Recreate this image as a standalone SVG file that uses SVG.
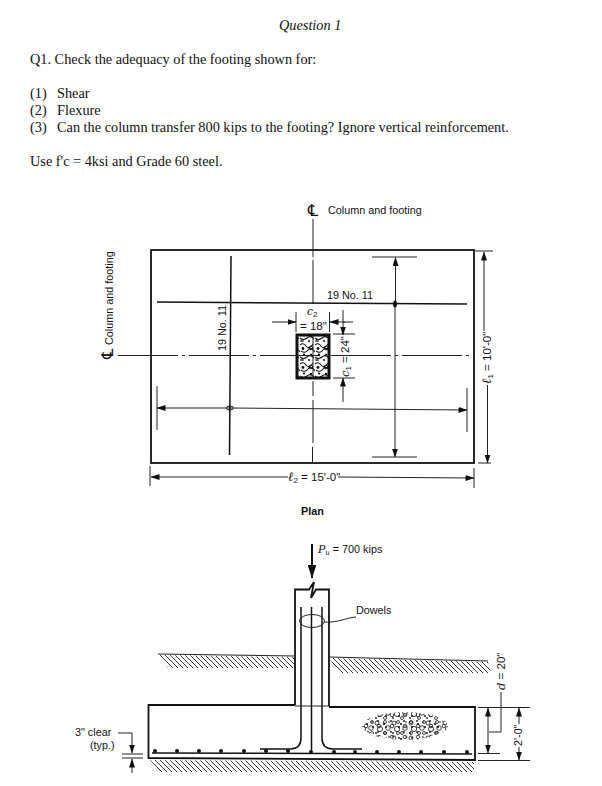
<svg xmlns="http://www.w3.org/2000/svg" width="602" height="786" viewBox="0 0 602 786">
<style>
.b{font-family:"Liberation Serif",serif;font-size:14.3px;fill:#111}
.s{font-family:"Liberation Sans",sans-serif;font-size:10.8px;fill:#111}
.n{font-size:11.5px}
.cl{font-family:"DejaVu Sans",sans-serif;font-size:16px;font-style:italic;fill:#111}
.i{font-family:"DejaVu Serif",serif;font-style:italic}
.l{fill:none;stroke:#222;stroke-width:1}
.m{fill:none;stroke:#111;stroke-width:1.5}
.t{fill:none;stroke:#111;stroke-width:1.8}
.d{fill:none;stroke:#222;stroke-width:1;stroke-dasharray:60 4 3 4}
.a{fill:none;stroke:#222;stroke-width:1;marker-end:url(#arr)}
.h{fill:url(#hatch)}
.bar{fill:#111}
</style>
<defs>
<marker id="arr" markerUnits="userSpaceOnUse" markerWidth="9" markerHeight="7" refX="8.500" refY="3" orient="auto"><path d="M0 0L9 3L0 6z" fill="#111"/></marker>
<marker id="arrB" markerUnits="userSpaceOnUse" markerWidth="14" markerHeight="9" refX="13.500" refY="4.500" orient="auto"><path d="M0 0L14 4.500L0 9z" fill="#111"/></marker>
<pattern id="hatch" width="5" height="5" patternUnits="userSpaceOnUse"><path d="M-1 -1L6 6M-1 4L1 6M4 -1L6 1" stroke="#111" stroke-width="0.85" fill="none"/></pattern>
<pattern id="agg" width="17" height="15" patternUnits="userSpaceOnUse">
<circle cx="3" cy="3" r="2" fill="none" stroke="#111" stroke-width=".8"/><circle cx="10" cy="4" r="1.100" fill="#111"/><circle cx="14" cy="8" r="2.300" fill="none" stroke="#111" stroke-width=".8"/><circle cx="6" cy="9" r="2.600" fill="none" stroke="#111" stroke-width=".8"/><circle cx="2" cy="13" r=".9" fill="#111"/><circle cx="11" cy="13" r="1.500" fill="none" stroke="#111" stroke-width=".8"/><circle cx="15" cy="2" r=".8" fill="#111"/>
</pattern>
<pattern id="agg2" x="5" y="4" width="13" height="11" patternUnits="userSpaceOnUse">
<circle cx="3" cy="3" r="1.500" fill="none" stroke="#111" stroke-width=".8"/><circle cx="9" cy="2" r=".9" fill="#111"/><circle cx="10" cy="7" r="1.800" fill="none" stroke="#111" stroke-width=".8"/><circle cx="4" cy="8" r="1" fill="#111"/>
</pattern>
<pattern id="aggC" width="15" height="19" patternUnits="userSpaceOnUse">
<rect width="15" height="19" fill="#fff"/><path d="M0 3Q3 0 6 4T13 2M1 9Q5 12 8 8T15 10M0 15Q3 18 7 15T14 16" stroke="#111" stroke-width="1.100" fill="none"/><circle cx="3" cy="6.500" r="1.400" fill="#111"/><circle cx="11" cy="6" r="1.800" fill="none" stroke="#111"/><circle cx="11" cy="13" r="1.300" fill="#111"/><circle cx="4" cy="12.500" r="1.100" fill="#111"/><circle cx="9" cy="18" r="1" fill="#111"/><circle cx="2" cy="18" r="1.200" fill="none" stroke="#111"/>
</pattern>
</defs>

<g id="question-text">
<text class="b" x="279" y="30" font-style="italic">Question 1</text>
<text class="b" x="30" y="64">Q1. Check the adequacy of the footing shown for:</text>
<text class="b" x="30" y="98">(1)</text><text class="b" x="57" y="98">Shear</text>
<text class="b" x="30" y="115">(2)</text><text class="b" x="57" y="115">Flexure</text>
<text class="b" x="30" y="132">(3)</text><text class="b" x="57" y="132">Can the column transfer 800 kips to the footing? Ignore vertical reinforcement.</text>
<text class="b" x="30" y="166">Use f'c = 4ksi and Grade 60 steel.</text>
</g>

<g id="plan-footing"><rect class="t" x="151" y="250" width="323" height="213"/></g>
<g id="plan-column"><rect x="297" y="335" width="32" height="43" fill="url(#aggC)" stroke="#111" stroke-width="3"/></g>
<g id="connectors">
<path class="l" d="M313 219V257M313 260V304M313 336V378M313 381V396M313 400V443M312.500 447V463"/>
<path class="d" d="M118 355.500H474"/>
<path class="m" d="M231 256L229.500 455"/>
<path class="m" d="M157 302L467 304"/>
<ellipse cx="395" cy="304" rx="2" ry="3.500" fill="#111"/>
<ellipse cx="230" cy="408" rx="3.500" ry="2" fill="none" stroke="#111"/>
<path class="l" d="M372 257H417M372 457H417M157 386V430M467 388V432"/>
<path class="a" d="M395.500 304V257.500"/><path class="a" d="M395 304V457"/>
<path class="a" d="M230 408H157"/><path class="a" d="M230 408L467 410"/>
<path class="l" d="M296 312V332M329.500 312V332M333 334H355M333 378H355M343 322H353"/>
<path class="a" d="M272 322H296"/><path class="a" d="M345 322H330"/>
<path class="a" d="M343 310V335"/><path class="a" d="M343 402V378"/>
<path class="l" d="M475 251H493M478 463H491M150 466V486M474 468V488"/>
<path class="a" d="M484 331V252"/><path class="a" d="M487.500 385V463"/>
<path class="a" d="M288 477H151"/><path class="a" d="M338 477L474 478"/>
<path d="M312 544V578" fill="none" stroke="#111" stroke-width="2" marker-end="url(#arrB)"/>
<path class="t" d="M295 705V589.500H309L314 582L311 598L316 589.500H329V706"/>
<path class="m" d="M301 607V738Q301 749 290 749H260"/>
<path class="m" d="M311.500 607V750"/>
<path class="m" d="M322 607V738Q322 749 333 749H362"/>
<ellipse class="l" cx="312" cy="621" rx="12.500" ry="6.500"/>
<path class="l" d="M324 622C338 623 345 618 356 617"/>
<path class="l" d="M158 654L295 656M329 657L488 661"/>
<path class="l" d="M295 706H329"/>
<path class="t" d="M295 705H148.500V758L475 760V707H329"/>
<path class="m" d="M152 753L472 754"/>
<path class="l" d="M478 707.500H530M478 753.500H500M478 760.500H530"/>
<path class="a" d="M488 730V708"/><path class="a" d="M488 730V753"/>
<path class="a" d="M519 724V708"/><path class="a" d="M519 747V760"/>
<path class="l" d="M501 692V732H489"/>
<path class="l" d="M118 733H132"/><path class="a" d="M132 733V753"/>
<path class="l" d="M122 754H143M122 758H143"/>
<path class="a" d="M132 773V759"/>
</g>
<g id="ground-hatching">
<path class="h" d="M158 655L295 657V668H168z"/>
<path class="h" d="M329 658L488 662L491 673H339z"/>
<path class="h" d="M150 760L474 762V772H160z"/>
</g>
<g id="rebars-section">
<circle class="bar" cx="155" cy="751" r="2"/><circle class="bar" cx="177" cy="751" r="2"/><circle class="bar" cx="199" cy="751" r="2"/><circle class="bar" cx="221" cy="751" r="2"/><circle class="bar" cx="244" cy="751" r="2"/><circle class="bar" cx="266" cy="751" r="2"/><circle class="bar" cx="288" cy="751" r="2"/><circle class="bar" cx="311" cy="752" r="2"/><circle class="bar" cx="334" cy="752" r="2"/><circle class="bar" cx="355" cy="752" r="2"/><circle class="bar" cx="377" cy="752" r="2"/><circle class="bar" cx="399" cy="752" r="2"/><circle class="bar" cx="421" cy="752" r="2"/><circle class="bar" cx="444" cy="752" r="2"/><circle class="bar" cx="467" cy="752" r="2"/>
</g>
<g id="aggregate"><ellipse cx="405" cy="726" rx="43" ry="14" fill="url(#agg)"/><ellipse cx="405" cy="726" rx="41" ry="13" fill="url(#agg2)"/></g>

<g id="plan-labels">
<text class="cl" x="313" y="216" text-anchor="middle">℄</text>
<text class="s" x="328" y="214">Column and footing</text>
<text class="s" transform="translate(113 345) rotate(-90)">Column and footing</text>
<text class="cl" transform="translate(113 361) rotate(-90)">℄</text>
<text class="s" x="327" y="299">19 No. 11</text>
<text class="s" transform="translate(226 351) rotate(-90)">19 No. 11</text>
<text class="s" x="307" y="315"><tspan class="i">c</tspan><tspan dy="2" font-size="8">2</tspan></text>
<text class="s n" x="300" y="330">= 18"</text>
<text class="s n" transform="translate(349 377) rotate(-90)"><tspan class="i">c</tspan><tspan dy="2" font-size="8">1</tspan><tspan dy="-2"> = 24"</tspan></text>
<text class="s n" transform="translate(491 384) rotate(-90)"><tspan class="i" font-size="13">ℓ</tspan><tspan dy="2" font-size="8">1</tspan><tspan dy="-2"> = 10'-0"</tspan></text>
<text class="s n" x="288" y="481"><tspan class="i" font-size="13">ℓ</tspan><tspan dy="2" font-size="8">2</tspan><tspan dy="-2"> = 15'-0"</tspan></text>
<text class="s" x="301" y="515" font-weight="bold">Plan</text>
</g>
<g id="section-labels">
<text class="s" x="318" y="553"><tspan class="i">P</tspan><tspan dy="2" font-size="7" class="i">u</tspan><tspan dy="-2"> = 700 kips</tspan></text>
<text class="s" x="356" y="614">Dowels</text>
<text class="s" transform="translate(505 690) rotate(-90)" style="font-size:11.5px"><tspan class="i">d</tspan> = 20"</text>
<text class="s" transform="translate(522 746) rotate(-90)">2'-0"</text>
<text class="s" x="75" y="736">3"  clear</text>
<text class="s" x="90" y="749">(typ.)</text>
</g>
</svg>
